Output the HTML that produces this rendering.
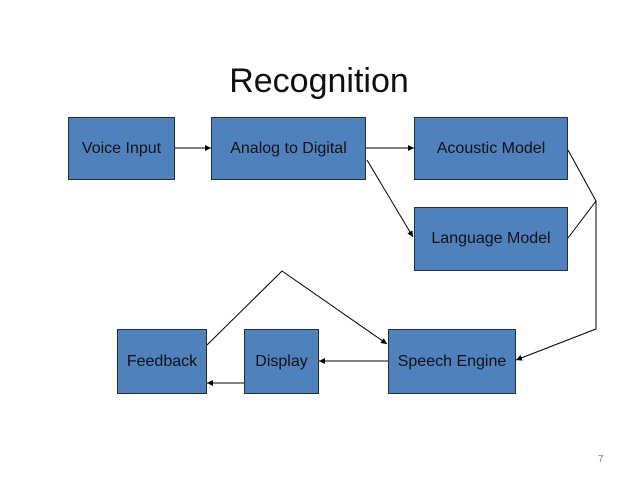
<!DOCTYPE html>
<html><head><style>
body{margin:0;width:638px;height:479px;background:#fff;overflow:hidden;position:relative;font-family:"Liberation Sans",sans-serif}
.b{position:absolute;background:#4f81bd;border:1px solid #1f2f44;box-sizing:border-box;display:flex;align-items:center;justify-content:center;font-size:16px;color:#111;white-space:nowrap}
</style></head><body>
<div style="position:absolute;left:0;width:638px;top:62px;text-align:center;font-size:34px;color:#111">Recognition</div>
<div class="b" style="left:68px;top:117px;width:107px;height:63px">Voice Input</div>
<div class="b" style="left:211px;top:117px;width:155px;height:63px">Analog to Digital</div>
<div class="b" style="left:414px;top:117px;width:154px;height:63px">Acoustic Model</div>
<div class="b" style="left:414px;top:207px;width:154px;height:64px">Language Model</div>
<div class="b" style="left:117px;top:329px;width:90px;height:65px">Feedback</div>
<div class="b" style="left:244px;top:329px;width:75px;height:65px">Display</div>
<div class="b" style="left:388px;top:329px;width:128px;height:65px">Speech Engine</div>
<svg width="638" height="479" style="position:absolute;left:0;top:0">
<defs><marker id="a" markerWidth="6" markerHeight="6" refX="6" refY="3" orient="auto" markerUnits="userSpaceOnUse"><path d="M0,0L6,3L0,6z" fill="#000"/></marker></defs>
<g stroke="#000" stroke-width="1" fill="none">
<line x1="175" y1="148" x2="211" y2="148" marker-end="url(#a)"/>
<line x1="366" y1="148" x2="414" y2="148" marker-end="url(#a)"/>
<line x1="367" y1="160" x2="413" y2="237" marker-end="url(#a)"/>
<polyline points="568,150 596,201 568,238"/>
<polyline points="596,201 596,329 516,360" marker-end="url(#a)"/>
<line x1="388" y1="361" x2="319" y2="361" marker-end="url(#a)"/>
<line x1="244" y1="383" x2="207" y2="383" marker-end="url(#a)"/>
<polyline points="207,345 282,271 387,344" marker-end="url(#a)"/>
</g>
<text x="598" y="462" font-size="10" fill="#888" font-family="Liberation Sans">7</text>
</svg>
</body></html>
